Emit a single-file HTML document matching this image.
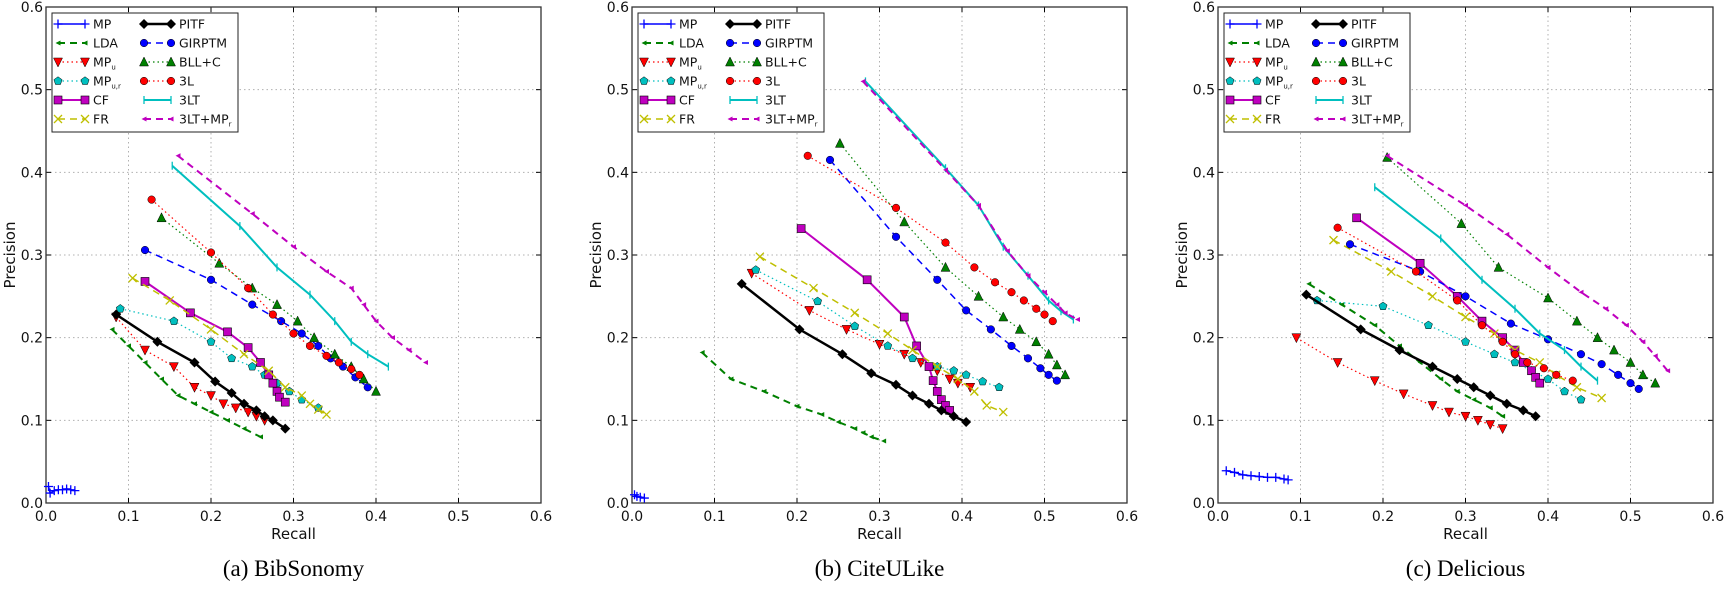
<!DOCTYPE html>
<html><head><meta charset="utf-8">
<style>
html,body{margin:0;padding:0;background:#fff;}
svg{display:block;font-family:"DejaVu Sans","Liberation Sans",sans-serif;}
.cap{font-family:"Liberation Serif",serif;font-size:23px;}
</style></head>
<body>
<svg id="chart" width="1727" height="593" viewBox="0 0 1727 593"></svg>
<script>
const panelTitles = ["(a) BibSonomy","(b) CiteULike","(c) Delicious"];
const seriesNames = ["MP","LDA","MPu","MPur","CF","FR","PITF","GIRPTM","BLL+C","3L","3LT","3LT+MPr"];
const xTicks = [0,0.1,0.2,0.3,0.4,0.5,0.6];
const yTicks = [0,0.1,0.2,0.3,0.4,0.5,0.6];

// BibSonomy
const bib_MP_x=[0.003,0.005,0.01,0.015,0.02,0.025,0.03,0.035];
const bib_MP_y=[0.02,0.012,0.015,0.016,0.016,0.017,0.016,0.015];
const bib_LDA_x=[0.08,0.1,0.12,0.14,0.16,0.18,0.2,0.22,0.24,0.26];
const bib_LDA_y=[0.21,0.19,0.17,0.15,0.13,0.12,0.11,0.10,0.09,0.08];
const bib_MPu_x=[0.085,0.12,0.155,0.18,0.2,0.215,0.23,0.245,0.255,0.265];
const bib_MPu_y=[0.225,0.185,0.165,0.14,0.13,0.12,0.115,0.11,0.105,0.1];
const bib_MPur_x=[0.09,0.155,0.2,0.225,0.25,0.265,0.28,0.295,0.31,0.33];
const bib_MPur_y=[0.235,0.22,0.195,0.175,0.165,0.155,0.145,0.135,0.125,0.115];
const bib_CF_x=[0.12,0.175,0.22,0.245,0.26,0.27,0.275,0.28,0.283,0.29];
const bib_CF_y=[0.268,0.23,0.207,0.188,0.17,0.155,0.145,0.135,0.128,0.122];
const bib_FR_x=[0.105,0.15,0.2,0.24,0.27,0.29,0.31,0.32,0.33,0.34];
const bib_FR_y=[0.272,0.245,0.21,0.18,0.16,0.14,0.13,0.12,0.113,0.107];
const bib_PITF_x=[0.085,0.135,0.18,0.205,0.225,0.24,0.255,0.265,0.275,0.29];
const bib_PITF_y=[0.228,0.195,0.17,0.147,0.133,0.12,0.112,0.105,0.1,0.09];
const bib_GIR_x=[0.12,0.2,0.25,0.285,0.31,0.33,0.345,0.36,0.375,0.39];
const bib_GIR_y=[0.306,0.27,0.24,0.22,0.205,0.19,0.175,0.165,0.152,0.14];
const bib_BLL_x=[0.14,0.21,0.25,0.28,0.305,0.325,0.35,0.37,0.385,0.4];
const bib_BLL_y=[0.345,0.29,0.26,0.24,0.22,0.2,0.18,0.165,0.15,0.135];
const bib_3L_x=[0.128,0.2,0.245,0.275,0.3,0.32,0.34,0.355,0.37,0.38];
const bib_3L_y=[0.367,0.303,0.26,0.228,0.205,0.19,0.178,0.17,0.162,0.155];
const bib_3LT_x=[0.153,0.235,0.28,0.32,0.35,0.37,0.39,0.415];
const bib_3LT_y=[0.408,0.335,0.285,0.252,0.22,0.195,0.18,0.165];
const bib_3LTMP_x=[0.16,0.25,0.3,0.34,0.37,0.385,0.4,0.42,0.44,0.46];
const bib_3LTMP_y=[0.42,0.35,0.31,0.28,0.26,0.24,0.22,0.2,0.185,0.17];

// CiteULike
const cul_MP_x=[0.003,0.006,0.01,0.015];
const cul_MP_y=[0.01,0.008,0.007,0.006];
const cul_LDA_x=[0.085,0.12,0.16,0.2,0.23,0.25,0.27,0.28,0.29,0.305];
const cul_LDA_y=[0.182,0.15,0.135,0.117,0.107,0.098,0.09,0.085,0.08,0.075];
const cul_MPu_x=[0.145,0.215,0.26,0.3,0.33,0.35,0.37,0.385,0.395,0.41];
const cul_MPu_y=[0.278,0.233,0.21,0.192,0.18,0.17,0.16,0.15,0.145,0.14];
const cul_MPur_x=[0.15,0.225,0.27,0.31,0.34,0.37,0.39,0.405,0.425,0.445];
const cul_MPur_y=[0.282,0.244,0.214,0.19,0.175,0.165,0.16,0.155,0.147,0.14];
const cul_CF_x=[0.205,0.285,0.33,0.345,0.36,0.365,0.37,0.375,0.38,0.385];
const cul_CF_y=[0.332,0.27,0.225,0.19,0.165,0.148,0.135,0.125,0.118,0.112];
const cul_FR_x=[0.155,0.22,0.27,0.31,0.34,0.37,0.395,0.415,0.43,0.45];
const cul_FR_y=[0.298,0.26,0.23,0.205,0.185,0.165,0.15,0.135,0.118,0.11];
const cul_PITF_x=[0.133,0.203,0.255,0.29,0.32,0.34,0.36,0.375,0.39,0.405];
const cul_PITF_y=[0.265,0.21,0.18,0.157,0.143,0.13,0.12,0.112,0.105,0.098];
const cul_GIR_x=[0.24,0.32,0.37,0.405,0.435,0.46,0.48,0.495,0.505,0.515];
const cul_GIR_y=[0.415,0.322,0.27,0.233,0.21,0.19,0.175,0.163,0.155,0.148];
const cul_BLL_x=[0.252,0.33,0.38,0.42,0.45,0.47,0.49,0.505,0.515,0.525];
const cul_BLL_y=[0.435,0.34,0.285,0.25,0.225,0.21,0.195,0.18,0.167,0.155];
const cul_3L_x=[0.213,0.32,0.38,0.415,0.44,0.46,0.475,0.49,0.5,0.51];
const cul_3L_y=[0.42,0.357,0.315,0.285,0.267,0.255,0.245,0.235,0.228,0.22];
const cul_3LT_x=[0.283,0.38,0.42,0.45,0.48,0.505,0.52,0.535];
const cul_3LT_y=[0.51,0.405,0.36,0.31,0.275,0.245,0.232,0.222];
const cul_3LTMP_x=[0.28,0.38,0.42,0.455,0.48,0.5,0.515,0.525,0.54];
const cul_3LTMP_y=[0.51,0.403,0.36,0.305,0.275,0.255,0.24,0.23,0.222];

// Delicious
const del_MP_x=[0.01,0.02,0.03,0.04,0.05,0.06,0.07,0.08,0.085];
const del_MP_y=[0.039,0.037,0.034,0.033,0.032,0.031,0.031,0.029,0.028];
const del_LDA_x=[0.11,0.15,0.19,0.22,0.245,0.27,0.29,0.31,0.33,0.345];
const del_LDA_y=[0.265,0.24,0.215,0.19,0.17,0.15,0.135,0.125,0.115,0.105];
const del_MPu_x=[0.095,0.145,0.19,0.225,0.26,0.28,0.3,0.315,0.33,0.345];
const del_MPu_y=[0.2,0.17,0.148,0.132,0.118,0.11,0.105,0.1,0.095,0.09];
const del_MPur_x=[0.12,0.2,0.255,0.3,0.335,0.36,0.38,0.4,0.42,0.44];
const del_MPur_y=[0.245,0.238,0.215,0.195,0.18,0.17,0.16,0.15,0.135,0.125];
const del_CF_x=[0.168,0.245,0.29,0.32,0.345,0.36,0.37,0.38,0.385,0.39];
const del_CF_y=[0.345,0.29,0.25,0.22,0.2,0.185,0.17,0.16,0.152,0.145];
const del_FR_x=[0.14,0.21,0.26,0.3,0.335,0.36,0.39,0.41,0.435,0.465];
const del_FR_y=[0.318,0.28,0.25,0.225,0.205,0.185,0.17,0.155,0.14,0.127];
const del_PITF_x=[0.107,0.173,0.22,0.26,0.29,0.31,0.33,0.35,0.37,0.385];
const del_PITF_y=[0.252,0.21,0.185,0.165,0.15,0.14,0.13,0.12,0.112,0.105];
const del_GIR_x=[0.16,0.245,0.3,0.355,0.4,0.44,0.465,0.485,0.5,0.51];
const del_GIR_y=[0.313,0.28,0.25,0.217,0.198,0.18,0.168,0.155,0.145,0.138];
const del_BLL_x=[0.205,0.295,0.34,0.4,0.435,0.46,0.48,0.5,0.515,0.53];
const del_BLL_y=[0.418,0.338,0.285,0.248,0.22,0.2,0.185,0.17,0.155,0.145];
const del_3L_x=[0.145,0.24,0.29,0.32,0.345,0.36,0.375,0.395,0.41,0.43];
const del_3L_y=[0.333,0.28,0.245,0.215,0.195,0.18,0.17,0.163,0.155,0.148];
const del_3LT_x=[0.19,0.27,0.32,0.36,0.39,0.42,0.44,0.46];
const del_3LT_y=[0.382,0.32,0.27,0.235,0.205,0.185,0.165,0.148];
const del_3LTMP_x=[0.205,0.3,0.35,0.4,0.44,0.47,0.495,0.515,0.53,0.545];
const del_3LTMP_y=[0.42,0.36,0.325,0.285,0.255,0.235,0.215,0.195,0.178,0.16];

const panelData = [
 [[bib_MP_x,bib_MP_y],[bib_LDA_x,bib_LDA_y],[bib_MPu_x,bib_MPu_y],[bib_MPur_x,bib_MPur_y],[bib_CF_x,bib_CF_y],[bib_FR_x,bib_FR_y],[bib_PITF_x,bib_PITF_y],[bib_GIR_x,bib_GIR_y],[bib_BLL_x,bib_BLL_y],[bib_3L_x,bib_3L_y],[bib_3LT_x,bib_3LT_y],[bib_3LTMP_x,bib_3LTMP_y]],
 [[cul_MP_x,cul_MP_y],[cul_LDA_x,cul_LDA_y],[cul_MPu_x,cul_MPu_y],[cul_MPur_x,cul_MPur_y],[cul_CF_x,cul_CF_y],[cul_FR_x,cul_FR_y],[cul_PITF_x,cul_PITF_y],[cul_GIR_x,cul_GIR_y],[cul_BLL_x,cul_BLL_y],[cul_3L_x,cul_3L_y],[cul_3LT_x,cul_3LT_y],[cul_3LTMP_x,cul_3LTMP_y]],
 [[del_MP_x,del_MP_y],[del_LDA_x,del_LDA_y],[del_MPu_x,del_MPu_y],[del_MPur_x,del_MPur_y],[del_CF_x,del_CF_y],[del_FR_x,del_FR_y],[del_PITF_x,del_PITF_y],[del_GIR_x,del_GIR_y],[del_BLL_x,del_BLL_y],[del_3L_x,del_3L_y],[del_3LT_x,del_3LT_y],[del_3LTMP_x,del_3LTMP_y]]
];

const styles = [
 {c:"#0000ff",dash:"",w:1.5,m:"plus"},
 {c:"#008000",dash:"7,5",w:2,m:"smalltri"},
 {c:"#ff0000",dash:"1.5,3",w:1.2,m:"tridown"},
 {c:"#00bfbf",dash:"1.5,3",w:1.2,m:"pent"},
 {c:"#bf00bf",dash:"",w:2,m:"square"},
 {c:"#bfbf00",dash:"7,5",w:1.5,m:"x"},
 {c:"#000000",dash:"",w:2.5,m:"diamond"},
 {c:"#0000ff",dash:"7,5",w:1.5,m:"circle"},
 {c:"#008000",dash:"1.5,3",w:1.2,m:"triup"},
 {c:"#ff0000",dash:"1.5,3",w:1.2,m:"circle"},
 {c:"#00bfbf",dash:"",w:2,m:"vline"},
 {c:"#bf00bf",dash:"7,5",w:2,m:"smalltri"}
];

const NS="http://www.w3.org/2000/svg";
const svg=document.getElementById("chart");
const PX=[46,632,1218], PW=495, PT=7, PB=503;
function mk(t,a,p){const e=document.createElementNS(NS,t);for(const k in a)e.setAttribute(k,a[k]);(p||svg).appendChild(e);return e;}
function sx(p,v){return PX[p]+v/0.6*PW;}
function sy(v){return PB-v/0.6*(PB-PT);}

function marker(g,type,x,y,c){
 let e;
 const s=4.5;
 if(type==="plus"){e=mk("path",{d:`M${x-s} ${y}H${x+s}M${x} ${y-s}V${y+s}`,stroke:c,"stroke-width":1.3,fill:"none"},g);}
 else if(type==="vline"){e=mk("path",{d:`M${x} ${y-4}V${y+4}`,stroke:c,"stroke-width":1.3},g);}
 else if(type==="x"){e=mk("path",{d:`M${x-4} ${y-4}L${x+4} ${y+4}M${x-4} ${y+4}L${x+4} ${y-4}`,stroke:c,"stroke-width":1.3},g);}
 else if(type==="circle"){e=mk("circle",{cx:x,cy:y,r:3.8,fill:c,stroke:"#000","stroke-width":0.5},g);}
 else if(type==="square"){e=mk("rect",{x:x-4,y:y-4,width:8,height:8,fill:c,stroke:"#000","stroke-width":0.6},g);}
 else if(type==="diamond"){e=mk("path",{d:`M${x} ${y-5}L${x+5} ${y}L${x} ${y+5}L${x-5} ${y}Z`,fill:"#000"},g);}
 else if(type==="tridown"){e=mk("path",{d:`M${x-4.5} ${y-4}L${x+4.5} ${y-4}L${x} ${y+5}Z`,fill:c,stroke:"#000","stroke-width":0.5},g);}
 else if(type==="triup"){e=mk("path",{d:`M${x-4.5} ${y+4}L${x+4.5} ${y+4}L${x} ${y-5}Z`,fill:c,stroke:"#000","stroke-width":0.5},g);}
 else if(type==="pent"){let d="";for(let i=0;i<5;i++){const a=-Math.PI/2+i*2*Math.PI/5;d+=(i?"L":"M")+(x+4.3*Math.cos(a)).toFixed(1)+" "+(y+4.3*Math.sin(a)).toFixed(1);}e=mk("path",{d:d+"Z",fill:c,stroke:"#000","stroke-width":0.5},g);}
 else {e=mk("path",{d:`M${x+2.5} ${y-2.5}L${x+2.5} ${y+2.5}L${x-2.5} ${y}Z`,fill:c},g);}
 return e;
}

for(let p=0;p<3;p++){
 const pg=mk("g",{});
 
 
 // gridlines
 xTicks.forEach((t,i)=>{
  if(i>0&&i<xTicks.length-1){const gl=mk("line",{x1:sx(p,t),x2:sx(p,t),y1:PT,y2:PB,stroke:"#b0b0b0","stroke-dasharray":"1.5,3","stroke-width":1},pg);
  
  }
  const tl=mk("text",{x:sx(p,t),y:PB+18,"text-anchor":"middle","font-size":14,fill:"#111"},pg);
  tl.textContent=t.toFixed(1);
  
  
  mk("line",{x1:sx(p,t),x2:sx(p,t),y1:PB,y2:PB-5,stroke:"#000"},pg);
  mk("line",{x1:sx(p,t),x2:sx(p,t),y1:PT,y2:PT+5,stroke:"#000"},pg);
 });
 yTicks.forEach((t,i)=>{
  if(i>0&&i<yTicks.length-1){const gl=mk("line",{x1:PX[p],x2:PX[p]+PW,y1:sy(t),y2:sy(t),stroke:"#b0b0b0","stroke-dasharray":"1.5,3","stroke-width":1},pg);
  
  }
  const tl=mk("text",{x:PX[p]-3,y:sy(t)+5,"text-anchor":"end","font-size":14,fill:"#111"},pg);
  tl.textContent=t.toFixed(1);
  
  
  mk("line",{x1:PX[p],x2:PX[p]+5,y1:sy(t),y2:sy(t),stroke:"#000"},pg);
  mk("line",{x1:PX[p]+PW,x2:PX[p]+PW-5,y1:sy(t),y2:sy(t),stroke:"#000"},pg);
 });
 const fr=mk("rect",{x:PX[p],y:PT,width:PW,height:PB-PT,fill:"none",stroke:"#333","stroke-width":1.3},pg);
 
 
 const xl=mk("text",{x:PX[p]+PW/2,y:PB+36,"text-anchor":"middle","font-size":15,fill:"#111"},pg);
 xl.textContent="Recall";
 
 
 const yl=mk("text",{x:0,y:0,"text-anchor":"middle","font-size":15,fill:"#111",transform:`translate(${PX[p]-31},${(PT+PB)/2}) rotate(-90)`},pg);
 yl.textContent="Precision";
 
 
 const cp=mk("text",{x:PX[p]+PW/2,y:576,"text-anchor":"middle",class:"cap",fill:"#000"},pg);
 cp.textContent=panelTitles[p];
 
 

 // series
 panelData[p].forEach((sd,si)=>{
  const st=styles[si];
  const sg=mk("g",{},pg);
  
  
  const pts=sd[0].map((x,i)=>sx(p,x).toFixed(1)+","+sy(sd[1][i]).toFixed(1)).join(" ");
  const ln=mk("polyline",{points:pts,fill:"none",stroke:st.c,"stroke-width":st.w,"stroke-dasharray":st.dash},sg);
  
  
  sd[0].forEach((x,i)=>{
   const m=marker(sg,st.m,sx(p,x),sy(sd[1][i]),st.c);
   
   
  });
 });

 // legend
 const lg=mk("g",{},pg);
 
 
 const lx=PX[p]+6, ly=PT+6;
 mk("rect",{x:lx,y:ly,width:186,height:119,fill:"#fff",stroke:"#222","stroke-width":1},lg);
 const labels=["MP","LDA","MP<sub>u</sub>","MP<sub>u,r</sub>","CF","FR","PITF","GIRPTM","BLL+C","3L","3LT","3LT+MP<sub>r</sub>"];
 seriesNames.forEach((n,si)=>{
  const col=si<6?0:1, row=si%6;
  const x0=lx+(col?92:6), yy=ly+11+row*19;
  const st=styles[si];
  const eg=mk("g",{},lg);
  
  
  mk("line",{x1:x0,x2:x0+27,y1:yy,y2:yy,stroke:st.c,"stroke-width":st.w,"stroke-dasharray":st.dash},eg);
  marker(eg,st.m,x0,yy,st.c);marker(eg,st.m,x0+27,yy,st.c);
  const t=mk("text",{x:x0+35,y:yy+4.5,"font-size":12.5,fill:"#111"},eg);
  const base=n.replace(/(u|ur|r)$/,"").replace("MPu","MP");
  if(si===2||si===3||si===11){
   t.textContent=si===11?"3LT+MP":"MP";
   const sub=mk("tspan",{"font-size":7,dy:3},t);
   sub.textContent=si===2?"u":si===3?"u,r":"r";
  } else t.textContent=n;
 });
}
</script>
</body></html>
